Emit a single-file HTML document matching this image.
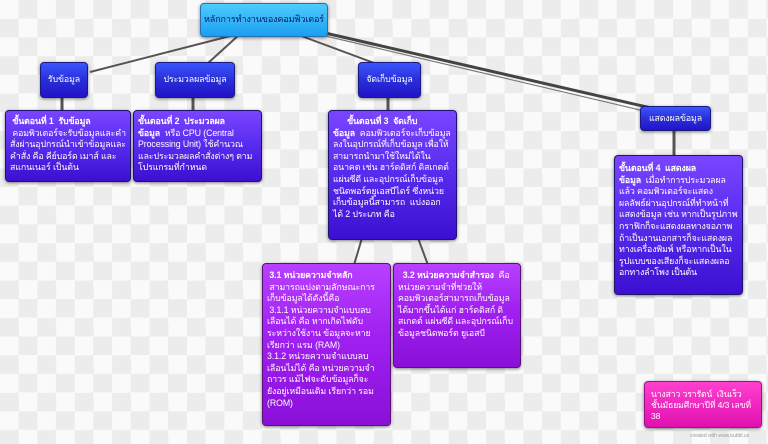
<!DOCTYPE html>
<html><head><meta charset="utf-8"><style>
html,body{margin:0;padding:0}
body{width:768px;height:444px;position:relative;overflow:hidden;
background:repeating-conic-gradient(#ececec 0 25%,#fafafa 0 50%) 0 0/37.4px 37.4px;
font-family:"Liberation Sans","DejaVu Sans","Noto Sans CJK SC",sans-serif;}
.n{position:absolute;box-sizing:border-box;border-radius:4px;color:#fff;font-size:8.8px;line-height:11.6px;box-shadow:0 1px 3px rgba(0,0,0,.5);white-space:nowrap;overflow:hidden;letter-spacing:-0.1px}
.b{background:linear-gradient(#3a55ff,#2a2fd8 50%,#2213c8);border:1px solid #1a1a80;}
.h{background:linear-gradient(#7a45ff,#5a2ef0 45%,#3b10d0);border:1px solid #1d1470;padding:5px 4px}
.p{background:linear-gradient(#b840ff,#a020f0 45%,#8a10d8);border:1px solid #5a107a;padding:6px 4px}
.c{display:flex;align-items:center;justify-content:center;text-align:center}
b{font-weight:bold}
</style></head><body>
<svg width="768" height="444" style="position:absolute;left:0;top:0">
<g stroke="#555" stroke-width="2" fill="none">
<line x1="238" y1="34" x2="90" y2="72"/>
<line x1="240" y1="34" x2="207" y2="64"/>
<line x1="296" y1="34" x2="382" y2="66"/>
<line x1="325" y1="33" x2="660" y2="110" stroke-width="3" stroke="#444"/>
<line x1="300" y1="30" x2="640" y2="110" stroke-width="1.2" stroke="#777"/>
<line x1="62" y1="96" x2="62" y2="112" stroke-width="3"/>
<line x1="193" y1="96" x2="193" y2="112" stroke-width="3"/>
<line x1="388" y1="96" x2="388" y2="112" stroke-width="3"/>
<line x1="674" y1="129" x2="674" y2="157" stroke-width="3"/>
<line x1="362" y1="238" x2="354" y2="265" stroke-width="2"/>
<line x1="418" y1="238" x2="428" y2="265" stroke-width="2"/>
</g></svg>
<div class="n c" style="left:200px;top:3px;width:128px;height:34px;background:linear-gradient(#4ecbff,#1aa0f0);border:1px solid #2a70b0;color:#0a1a60;font-size:9px;">หลักการทำงานของคอมพิวเตอร์</div>
<div class="n b c" style="left:40px;top:62px;width:48px;height:36px;">รับข้อมูล</div>
<div class="n b c" style="left:155px;top:62px;width:80px;height:36px;">ประมวลผลข้อมูล</div>
<div class="n b c" style="left:358px;top:62px;width:63px;height:36px;">จัดเก็บข้อมูล</div>
<div class="n b c" style="left:640px;top:106px;width:71px;height:25px;">แสดงผลข้อมูล</div>
<div class="n h" style="left:5px;top:110px;width:126px;height:72px;"><b>&nbsp;ขั้นตอนที่ 1&nbsp; รับข้อมูล</b><br>&nbsp;คอมพิวเตอร์จะรับข้อมูลและคำ<br>สั่งผ่านอุปกรณ์นำเข้าข้อมูลและ<br>คำสั่ง คือ คีย์บอร์ด เมาส์ และ<br>สแกนเนอร์ เป็นต้น</div>
<div class="n h" style="left:133px;top:110px;width:129px;height:72px;"><b>ขั้นตอนที่ 2&nbsp; ประมวลผล<br>ข้อมูล</b>&nbsp; หรือ CPU (Central<br>Processing Unit) ใช้คำนวณ<br>และประมวลผลคำสั่งต่างๆ ตาม<br>โปรแกรมที่กำหนด</div>
<div class="n h" style="left:328px;top:110px;width:129px;height:130px;"><b>&nbsp;&nbsp;&nbsp;&nbsp;&nbsp;&nbsp;ขั้นตอนที่ 3&nbsp; จัดเก็บ<br>ข้อมูล</b>&nbsp; คอมพิวเตอร์จะเก็บข้อมูล<br>ลงในอุปกรณ์ที่เก็บข้อมูล เพื่อให้<br>สามารถนำมาใช้ใหม่ได้ใน<br>อนาคต เช่น ฮาร์ดดิสก์ ดิสเกตต์<br>แผ่นซีดี และอุปกรณ์เก็บข้อมูล<br>ชนิดพอร์ตยูเอสบีไดร์ ซึ่งหน่วย<br>เก็บข้อมูลนี้สามารถ&nbsp; แบ่งออก<br>ได้ 2 ประเภท คือ</div>
<div class="n h" style="left:614px;top:155px;width:129px;height:140px;padding-top:7px"><b>ขั้นตอนที่ 4&nbsp; แสดงผล<br>ข้อมูล</b>&nbsp; เมื่อทำการประมวลผล<br>แล้ว คอมพิวเตอร์จะแสดง<br>ผลลัพธ์ผ่านอุปกรณ์ที่ทำหน้าที่<br>แสดงข้อมูล เช่น หากเป็นรูปภาพ<br>กราฟิกก็จะแสดงผลทางจอภาพ<br>ถ้าเป็นงานเอกสารก็จะแสดงผล<br>ทางเครื่องพิมพ์ หรือหากเป็นใน<br>รูปแบบของเสียงก็จะแสดงผลอ<br>อกทางลำโพง เป็นต้น</div>
<div class="n p" style="left:262px;top:263px;width:129px;height:163px;"><b>&nbsp;3.1 หน่วยความจำหลัก</b><br>&nbsp;สามารถแบ่งตามลักษณะการ<br>เก็บข้อมูลได้ดังนี้คือ<br>&nbsp;3.1.1 หน่วยความจำแบบลบ<br>เลือนได้ คือ หากเกิดไฟดับ<br>ระหว่างใช้งาน ข้อมูลจะหาย<br>เรียกว่า แรม (RAM)<br>3.1.2 หน่วยความจำแบบลบ<br>เลือนไม่ได้ คือ หน่วยความจำ<br>ถาวร แม้ไฟจะดับข้อมูลก็จะ<br>ยังอยู่เหมือนเดิม เรียกว่า รอม<br>(ROM)</div>
<div class="n p" style="left:393px;top:263px;width:128px;height:105px;"><b>&nbsp;&nbsp;3.2 หน่วยความจำสำรอง</b>&nbsp; คือ<br>หน่วยความจำที่ช่วยให้<br>คอมพิวเตอร์สามารถเก็บข้อมูล<br>ได้มากขึ้นได้แก่ ฮาร์ดดิสก์ ดิ<br>สเกตต์ แผ่นซีดี และอุปกรณ์เก็บ<br>ข้อมูลชนิดพอร์ต ยูเอสบี</div>
<div class="n" style="left:644px;top:381px;width:118px;height:47px;background:linear-gradient(#ff40d0,#e010b0);border:1px solid #a0108a;padding:7px 6px;font-size:8.6px;line-height:11px">นางสาว วรารัตน์&nbsp; เงินเร็ว<br>ชั้นมัธยมศึกษาปีที่ 4/3 เลขที่<br>38</div>
<div style="position:absolute;left:690px;top:433px;font-size:5px;color:#999">created with www.bubbl.us</div>
</body></html>
